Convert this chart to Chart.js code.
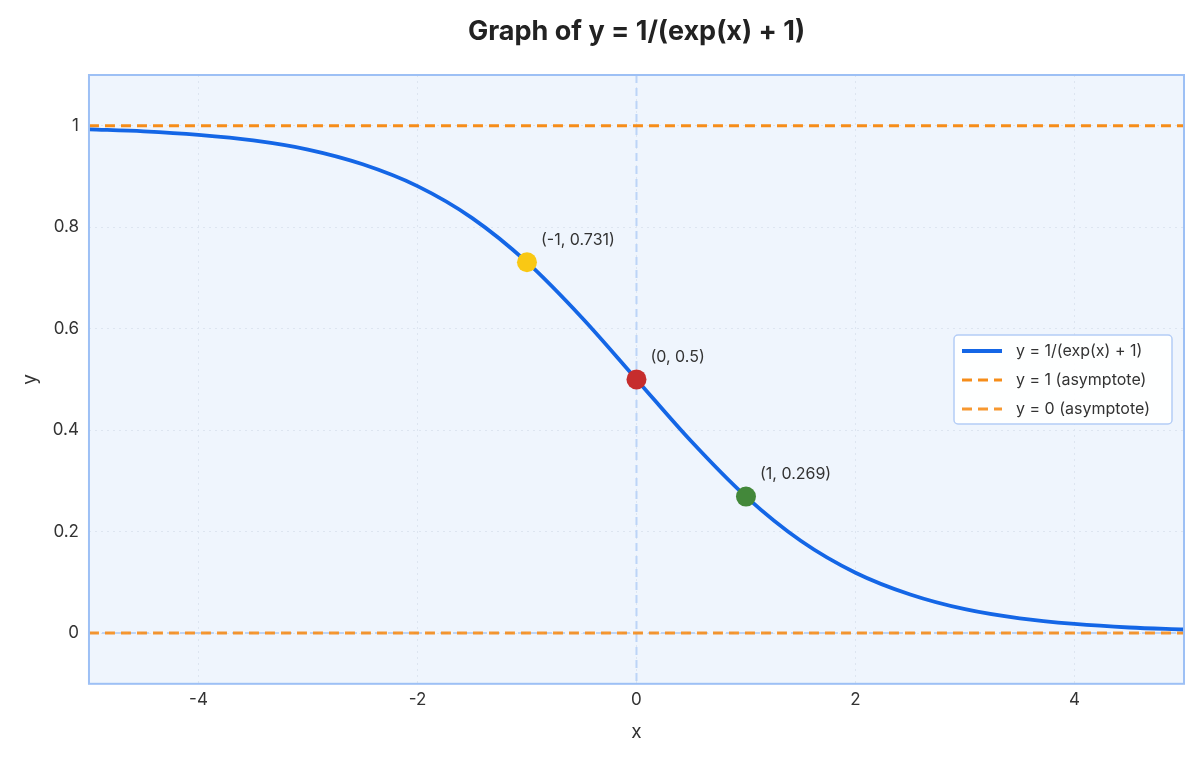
<!DOCTYPE html>
<html>
<head>
<meta charset="utf-8">
<title>Graph of y = 1/(exp(x) + 1)</title>
<script src="https://cdn.jsdelivr.net/npm/chart.js@4.4.0/dist/chart.umd.min.js"></script>
<style>
  html, body { margin: 0; padding: 0; background: #ffffff; }
  #wrap { width: 1200px; height: 760px; }
</style>
</head>
<body>
<div id="wrap"><canvas id="chart" width="1200" height="760"></canvas></div>
<script>
"use strict"

// x-värden och avlästa y-värden för kurvan
const curveX = [-5, -4.5, -4, -3.5, -3, -2.5, -2, -1.5, -1, -0.5, 0, 0.5, 1, 1.5, 2, 2.5, 3, 3.5, 4, 4.5, 5];
const curveY = [0.993, 0.989, 0.982, 0.971, 0.953, 0.924, 0.881, 0.818, 0.731, 0.622, 0.5, 0.378, 0.269, 0.182, 0.119, 0.076, 0.047, 0.029, 0.018, 0.011, 0.007];

// Asymptoter
const asymX = [-5, 5];
const asymTop = [1, 1];
const asymBottom = [0, 0];

// Markerade punkter
const markX = [-1, 0, 1];
const markY = [0.731, 0.5, 0.269];
const markLabels = ['(-1, 0.731)', '(0, 0.5)', '(1, 0.269)'];
const markColors = ['#f9c814', '#c62d2d', '#43883a'];

// Skalor
const xTicks = [-4, -2, 0, 2, 4];
const yTicks = [0, 0.2, 0.4, 0.6, 0.8, 1];

const titleText = 'Graph of y = 1/(exp(x) + 1)';
const FONT = "Inter, 'Noto Sans', sans-serif";

function pairs(xs, ys) {
    return xs.map((x, i) => ({ x: x, y: ys[i] }));
}

// Bakgrund, ram, nollinjer och rubrik
const plotFrame = {
    id: 'plotFrame',
    beforeDraw(chart) {
        const { ctx, chartArea: a } = chart;
        ctx.save();
        ctx.fillStyle = '#eff5fd';
        ctx.fillRect(a.left, a.top, a.right - a.left, a.bottom - a.top);
        ctx.restore();
    },
    beforeDatasetsDraw(chart) {
        const { ctx, chartArea: a, scales } = chart;
        const x0 = scales.x.getPixelForValue(0);
        const y0 = scales.y.getPixelForValue(0);
        ctx.save();
        ctx.strokeStyle = '#bcd4f7';
        ctx.lineWidth = 2;
        ctx.setLineDash([8, 5]);
        ctx.beginPath();
        ctx.moveTo(x0, a.top);
        ctx.lineTo(x0, a.bottom);
        ctx.moveTo(a.left, y0);
        ctx.lineTo(a.right, y0);
        ctx.stroke();
        ctx.restore();
    },
    afterDraw(chart) {
        const { ctx, chartArea: a } = chart;
        ctx.save();
        ctx.strokeStyle = '#9dc0f5';
        ctx.lineWidth = 2;
        ctx.strokeRect(a.left, a.top, a.right - a.left, a.bottom - a.top);
        // rubriken centreras över ritytan
        ctx.fillStyle = '#222222';
        ctx.font = 'bold 27px ' + FONT;
        ctx.textAlign = 'center';
        ctx.textBaseline = 'middle';
        ctx.fillText(titleText, (a.left + a.right) / 2, 32);
        ctx.restore();
    }
};

// Etiketter vid punkterna
const pointLabels = {
    id: 'pointLabels',
    afterDatasetsDraw(chart) {
        const { ctx, scales } = chart;
        ctx.save();
        ctx.font = '16px ' + FONT;
        ctx.fillStyle = '#333333';
        ctx.textBaseline = 'middle';
        ctx.textAlign = 'left';
        markX.forEach((x, i) => {
            const px = scales.x.getPixelForValue(x);
            const py = scales.y.getPixelForValue(markY[i]);
            ctx.fillText(markLabels[i], px + 14, py - 22);
        });
        ctx.restore();
    }
};

// Legend inne i diagrammet
const innerLegend = {
    id: 'innerLegend',
    afterDraw(chart) {
        const { ctx } = chart;
        const items = chart.data.datasets.filter((d) => d.inLegend);
        const left = 954, top = 335, w = 218, h = 89;
        ctx.save();
        ctx.fillStyle = 'rgba(255,255,255,0.92)';
        ctx.strokeStyle = '#b4cdf6';
        ctx.lineWidth = 1.5;
        ctx.beginPath();
        ctx.roundRect(left, top, w, h, 4);
        ctx.fill();
        ctx.stroke();
        ctx.font = '16px ' + FONT;
        ctx.textBaseline = 'middle';
        items.forEach((d, i) => {
            const y = top + 16 + i * 29;
            ctx.strokeStyle = d.borderColor;
            ctx.lineWidth = d.borderWidth;
            ctx.setLineDash(d.borderDash || []);
            ctx.lineCap = 'butt';
            ctx.beginPath();
            ctx.moveTo(left + 8, y);
            ctx.lineTo(left + 48, y);
            ctx.stroke();
            ctx.setLineDash([]);
            ctx.fillStyle = '#333333';
            ctx.fillText(d.label, left + 62, y);
        });
        ctx.restore();
    }
};

new Chart(document.getElementById('chart'), {
    type: 'scatter',
    data: {
        datasets: [
            {
                label: 'points',
                data: pairs(markX, markY),
                showLine: false,
                pointRadius: 10,
                pointHoverRadius: 10,
                pointBackgroundColor: markColors,
                pointBorderColor: markColors,
                pointBorderWidth: 0,
                order: 0
            },
            {
                label: 'y = 1/(exp(x) + 1)',
                inLegend: true,
                data: pairs(curveX, curveY),
                showLine: true,
                borderColor: '#1466e6',
                borderWidth: 3.8,
                pointRadius: 0,
                cubicInterpolationMode: 'monotone',
                order: 1
            },
            {
                label: 'y = 1 (asymptote)',
                inLegend: true,
                data: pairs(asymX, asymTop),
                showLine: true,
                borderColor: '#f68d1a',
                borderWidth: 3,
                borderDash: [10, 6],
                pointRadius: 0,
                order: 2
            },
            {
                label: 'y = 0 (asymptote)',
                inLegend: true,
                data: pairs(asymX, asymBottom),
                showLine: true,
                borderColor: 'rgba(246,141,26,0.9)',
                borderWidth: 3,
                borderDash: [10, 6],
                pointRadius: 0,
                order: 3
            }
        ]
    },
    options: {
        responsive: false,
        devicePixelRatio: 1,
        animation: false,
        layout: { padding: { left: 15, right: 16, top: 75, bottom: 12 } },
        plugins: {
            legend: { display: false },
            tooltip: { enabled: false },
            title: { display: false }
        },
        scales: {
            x: {
                type: 'linear',
                min: -5,
                max: 5,
                afterBuildTicks: (axis) => { axis.ticks = xTicks.map((v) => ({ value: v })); },
                ticks: { color: '#333333', font: { family: FONT, size: 17 }, padding: 6, callback: (v) => String(v) },
                grid: { color: '#dde5f0', lineWidth: 1, drawTicks: false },
                border: { display: false, dash: [2, 4] },
                title: { display: true, text: 'x', color: '#333333', font: { family: FONT, size: 19 }, padding: { top: 5 } }
            },
            y: {
                type: 'linear',
                min: -0.1,
                max: 1.1,
                afterBuildTicks: (axis) => { axis.ticks = yTicks.map((v) => ({ value: v })); },
                ticks: { color: '#333333', font: { family: FONT, size: 17 }, padding: 10, callback: (v) => String(v) },
                grid: { color: '#dde5f0', lineWidth: 1, drawTicks: false },
                border: { display: false, dash: [2, 4] },
                title: { display: true, text: 'y', color: '#333333', font: { family: FONT, size: 19 }, padding: { bottom: 1 } }
            }
        }
    },
    plugins: [plotFrame, pointLabels, innerLegend]
});
</script>
</body>
</html>
